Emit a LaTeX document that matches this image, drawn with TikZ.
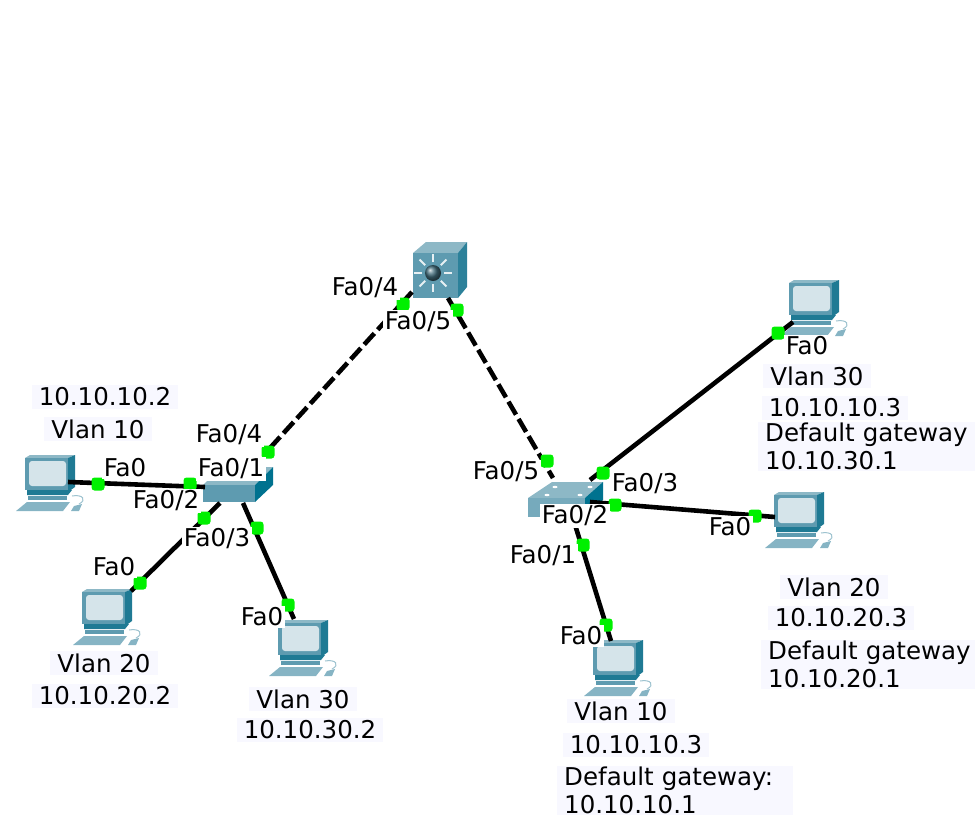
\documentclass[tikz,border=0pt]{standalone}
\usepackage{fontspec}
\setmainfont{DejaVu Sans}
\definecolor{pcfront}{HTML}{5E9BB0}
\definecolor{pctop}{HTML}{8DB8C6}
\definecolor{pcside}{HTML}{1F7A94}
\definecolor{pcscreen}{HTML}{D5E4EA}
\definecolor{swside}{HTML}{00728F}
\definecolor{portgreen}{HTML}{00F000}
\definecolor{tagfill}{HTML}{F8F8FF}
\tikzset{
	link/.style={line width=4.6pt,black},
	trunk/.style={link,dash pattern=on 15pt off 5pt},
	port/.style={fill=portgreen,rounded corners=3pt,minimum size=13pt,inner sep=0pt},
	fa/.style={fill=white,inner sep=1.5pt,font=\fontsize{24.5}{28}\selectfont},
	tag/.style={fill=tagfill,inner xsep=7pt,inner ysep=3pt,font=\fontsize{24.5}{28}\selectfont},
	note/.style={tag,anchor=north west,align=left,inner ysep=1pt},
	pcicon/.pic={
		\fill[pctop] (0,0) -- (5,-3) -- (50,-3) -- (43,0) -- cycle;
		\fill[pcside] (43,0) -- (50,-3) -- (50,29) -- (43,34) -- cycle;
		\fill[pcfront] (0,0) rectangle (43,32);
		\fill[pcscreen,rounded corners=3pt] (4,3) rectangle (41,28);
		\fill[pcside] (2,32) -- (47,32) -- (43,37) -- (2,37) -- cycle;
		\fill[pcfront] (3,38) rectangle (42,42);
		\fill[pcfront!75] (2,44) -- (45,44) -- (38,53) -- (-9,53) -- cycle;
		\fill[pcfront!75] (49,48) -- (57,46) -- (54,53) -- (46,53) -- cycle;
		\draw[pcfront!60,line width=1pt] (47,38) .. controls (58,36) and (62,42) .. (54,46);
	},
}
\begin{document}
\begin{tikzpicture}[x=1pt,y=-1pt]
	\useasboundingbox (0,0) rectangle (975,825);
	% ends of the links
	\coordinate (pcA) at (68,482);
	\coordinate (pcB) at (131,591);
	\coordinate (pcC) at (294,619);
	\coordinate (pcD) at (793,322);
	\coordinate (pcE) at (775,517);
	\coordinate (pcF) at (611,641);
	\coordinate (swAwest) at (205,487);
	\coordinate (swAsouth) at (220,503);
	\coordinate (swAeast) at (243,503);
	\coordinate (swAnorth) at (270,448);
	\coordinate (mlswest) at (412,292);
	\coordinate (mlseast) at (448,298);
	\coordinate (swBnorth) at (553,478);
	\coordinate (swBeast) at (590,480);
	\coordinate (swBright) at (590,502);
	\coordinate (swBsouth) at (572,515);
	% the six hosts
	\foreach \x/\y in {25/458,82/592,278/623,789/283,774/495,593/643}
		\pic at (\x,\y) {pcicon};
	% left switch
	\fill[pctop] (203,485) -- (221,467) -- (273,467) -- (255,485) -- cycle;
	\fill[swside] (255,485) -- (273,467) -- (273,485) -- (255,502) -- cycle;
	\fill[pcfront] (203,485) rectangle (255,502);
	% core switch
	\fill[pctop] (413,253) -- (426,242) -- (467,242) -- (458,253) -- cycle;
	\fill[pcside!80!pcfront] (458,253) -- (467,242) -- (467,287) -- (458,298) -- cycle;
	\fill[pcfront] (413,253) rectangle (458,298);
	\shade[ball color=pcfront!70!black] (433,273) circle (8pt);
	\foreach \a in {0,45,...,315}
		\draw[white!85!pcfront,line width=2pt] (\a:11pt)++(433,273) -- ++(\a:8pt);
	% right switch
	\fill[pctop] (528,498) -- (552,482) -- (603,482) -- (585,498) -- cycle;
	\fill[swside] (585,498) -- (603,482) -- (603,500) -- (585,516) -- cycle;
	\fill[pcfront!85] (528,498) rectangle (585,517);
	\foreach \x/\y in {555/487,590/487,547/495,580/495}
		\fill[white] (\x,\y) ellipse (2.5pt and 1.2pt);
	% links
	\draw[link] (pcA) -- (swAwest);
	\draw[link] (pcB) -- (swAsouth);
	\draw[link] (pcC) -- (swAeast);
	\draw[trunk] (swAnorth) -- (mlswest);
	\draw[trunk] (mlseast) -- (swBnorth);
	\draw[link] (swBeast) -- (pcD);
	\draw[link] (swBright) -- (pcE);
	\draw[link] (swBsouth) -- (pcF);
	% ports
	\foreach \nm/\x/\y in {pA/98/484,pB/190/484,pC/204/518,pD/257/528,pE/140/583,pF/288/605,pG/268/452,pH/403/304,pI/457/310,pJ/547/461,pK/603/473,pL/615/505,pM/755/516,pN/583/545,pO/606/625,pP/778/333}
		\node[port] (\nm) at (\x,\y) {};
	% port names
	\foreach \nm/\x/\y/\txt in {faA/125/468/{Fa0},faB/166/501/{Fa0/2},faC/229/435/{Fa0/4},faD/231/469/{Fa0/1},faE/217/539/{Fa0/3},faF/114/567/{Fa0},faG/262/617/{Fa0},faH/365/288/{Fa0/4},faI/418/322/{Fa0/5},faJ/506/472/{Fa0/5},faK/645/484/{Fa0/3},faL/575/516/{Fa0/2},faM/730/527/{Fa0},faN/543/556/{Fa0/1},faO/581/636/{Fa0},faP/807/346/{Fa0}}
		\node[fa] (\nm) at (\x,\y) {\txt};
	% addresses
	\foreach \nm/\x/\y/\txt in {tagA/105/397/10.10.10.2,tagB/98/429/Vlan 10,tagC/104/663/Vlan 20,tagD/105/696/10.10.20.2,tagE/303/699/Vlan 30,tagF/310/730/10.10.30.2,tagG/817/376/Vlan 30,tagH/835/408/10.10.10.3,tagI/834/587/Vlan 20,tagJ/841/618/10.10.20.3,tagK/621/711/Vlan 10,tagL/636/745/10.10.10.3}
		\node[tag] (\nm) at (\x,\y) {\txt};
	\node[note,text width=203pt] (gwD) at (758,421.5) {Default gateway\\10.10.30.1};
	\node[note,text width=206pt] (gwE) at (761,640) {Default gateway\\10.10.20.1};
	\node[note,text width=222pt] (gwF) at (557,766) {Default gateway:\\10.10.10.1};
\end{tikzpicture}
\end{document}
